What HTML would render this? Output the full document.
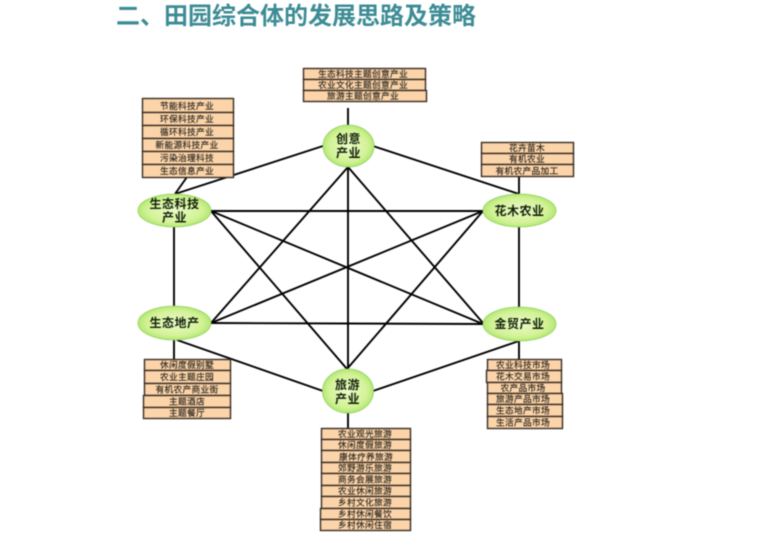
<!DOCTYPE html>
<html><head><meta charset="utf-8"><style>
html,body{margin:0;padding:0;background:#fff;width:760px;height:539px;overflow:hidden}
svg{display:block;filter:blur(.5px)}
.t{font-family:"Liberation Sans","Noto Sans CJK SC",sans-serif;fill:#2e2a22;font-size:8.7px;text-anchor:middle;letter-spacing:.3px;stroke:#2e2a22;stroke-width:.15}
.n{font-family:"Liberation Sans","Noto Sans CJK SC",sans-serif;fill:#14200c;font-size:12px;font-weight:bold;text-anchor:middle;letter-spacing:.5px}
rect{fill:#fcd4a9;stroke:#3a2e24;stroke-width:1.4}
line{stroke:#000;stroke-width:1.9}
ellipse{fill:url(#g);stroke:#8fd15a;stroke-width:.8}
</style></head><body>
<svg width="760" height="539" viewBox="0 0 760 539" xmlns="http://www.w3.org/2000/svg">
<defs><radialGradient id="g" cx="50%" cy="50%" r="58%"><stop offset="0" stop-color="#eafbc8"/><stop offset=".65" stop-color="#d2f296"/><stop offset="1" stop-color="#a0e25e"/></radialGradient></defs>
<text x="116" y="24" font-family="'Liberation Sans','Noto Sans CJK SC',sans-serif" font-weight="bold" font-size="24" fill="#3d8c95">二、田园综合体的发展思路及策略</text>

<line x1="348" y1="108" x2="348" y2="125"/>
<line x1="187" y1="177" x2="175" y2="194"/>
<line x1="519" y1="176" x2="519" y2="194"/>
<line x1="174" y1="340" x2="174" y2="359"/>
<line x1="519" y1="341" x2="519" y2="359"/>
<line x1="348" y1="413" x2="348" y2="428"/>
<line x1="175" y1="194" x2="323" y2="146"/>
<line x1="373" y1="146" x2="519" y2="194"/>
<line x1="174" y1="227" x2="174" y2="306"/>
<line x1="519" y1="227" x2="519" y2="307"/>
<line x1="177" y1="340" x2="323" y2="391"/>
<line x1="519" y1="341" x2="373" y2="391"/>
<line x1="348" y1="167" x2="348" y2="369"/>
<line x1="348" y1="167" x2="211" y2="323"/>
<line x1="348" y1="167" x2="483" y2="323"/>
<line x1="211" y1="211" x2="483" y2="211"/>
<line x1="211" y1="211" x2="483" y2="324"/>
<line x1="211" y1="211" x2="347" y2="369"/>
<line x1="483" y1="211" x2="211" y2="323"/>
<line x1="483" y1="211" x2="347" y2="369"/>
<line x1="211" y1="323" x2="483" y2="324"/>

<g>
<rect x="303.5" y="68.5" width="122" height="11"/><text class="t" x="363" y="76.8">生态科技主题创意产业</text>
<rect x="303.5" y="79.5" width="122" height="11"/><text class="t" x="363" y="87.8">农业文化主题创意产业</text>
<rect x="303.5" y="90.5" width="123" height="11"/><text class="t" x="363" y="98.8">旅游主题创意产业</text>
</g>
<g>
<rect x="142.5" y="98.5" width="91" height="14"/><text class="t" x="187" y="108.8">节能科技产业</text>
<rect x="142.5" y="112.5" width="91" height="13"/><text class="t" x="187" y="122">环保科技产业</text>
<rect x="142.5" y="125.5" width="91" height="13"/><text class="t" x="187" y="135">循环科技产业</text>
<rect x="142.5" y="138.5" width="91" height="13"/><text class="t" x="187" y="148">新能源科技产业</text>
<rect x="142.5" y="151.5" width="91" height="13"/><text class="t" x="187" y="161">污染治理科技</text>
<rect x="142.5" y="164.5" width="91" height="13"/><text class="t" x="187" y="173.8">生态信息产业</text>
</g>
<g>
<rect x="481.5" y="142.5" width="92" height="11"/><text class="t" x="527" y="151">花卉苗木</text>
<rect x="481.5" y="153.5" width="92" height="11"/><text class="t" x="527" y="162">有机农业</text>
<rect x="481.5" y="164.5" width="92" height="12"/><text class="t" x="527" y="173.8">有机农产品加工</text>
</g>
<g>
<rect x="144.5" y="359.5" width="86" height="11"/><text class="t" x="187" y="368">休闲度假别墅</text>
<rect x="144.5" y="370.5" width="86" height="13"/><text class="t" x="187" y="380">农业主题庄园</text>
<rect x="144.5" y="383.5" width="86" height="12"/><text class="t" x="187" y="392.5">有机农产商业街</text>
<rect x="143.5" y="395.5" width="87" height="12"/><text class="t" x="187" y="404.5">主题酒店</text>
<rect x="143.5" y="407.5" width="87" height="11"/><text class="t" x="187" y="415.8">主题餐厅</text>
</g>
<g>
<rect x="487.5" y="359.5" width="74" height="11"/><text class="t" x="523" y="367.8">农业科技市场</text>
<rect x="486.5" y="370.5" width="75" height="12"/><text class="t" x="523" y="379.5">花木交易市场</text>
<rect x="487.5" y="382.5" width="74" height="11"/><text class="t" x="523" y="390.8">农产品市场</text>
<rect x="487.5" y="393.5" width="75" height="11"/><text class="t" x="523" y="401.8">旅游产品市场</text>
<rect x="487.5" y="404.5" width="75" height="12"/><text class="t" x="523" y="413.5">生态地产市场</text>
<rect x="487.5" y="416.5" width="75" height="12"/><text class="t" x="523" y="425.5">生活产品市场</text>
</g>
<g>
<rect x="321.5" y="428.5" width="89" height="11"/><text class="t" x="365" y="437">农业观光旅游</text>
<rect x="321.5" y="439.5" width="89" height="11"/><text class="t" x="365" y="448">休闲度假旅游</text>
<rect x="321.5" y="450.5" width="89" height="12"/><text class="t" x="366" y="459.8">康体疗养旅游</text>
<rect x="321.5" y="462.5" width="89" height="11"/><text class="t" x="365" y="471">郊野游乐旅游</text>
<rect x="321.5" y="473.5" width="89" height="12"/><text class="t" x="365" y="482.5">商务会展旅游</text>
<rect x="321.5" y="485.5" width="89" height="11"/><text class="t" x="365" y="494">农业休闲旅游</text>
<rect x="321.5" y="496.5" width="89" height="12"/><text class="t" x="365" y="505.5">乡村文化旅游</text>
<rect x="320.5" y="508.5" width="90" height="11"/><text class="t" x="365" y="517">乡村休闲餐饮</text>
<rect x="320.5" y="519.5" width="90" height="11"/><text class="t" x="365" y="528">乡村休闲住宿</text>
</g>

<ellipse cx="348.5" cy="146" rx="25.5" ry="21"/>
<text class="n" x="348.5" y="143">创意</text><text class="n" x="348.5" y="157">产业</text>
<ellipse cx="174.5" cy="210.5" rx="36.5" ry="16.5"/>
<text class="n" x="174.5" y="208">生态科技</text><text class="n" x="174.5" y="221.5">产业</text>
<ellipse cx="519.5" cy="210.5" rx="36.5" ry="16.5"/>
<text class="n" x="519.5" y="215">花木农业</text>
<ellipse cx="174.5" cy="323" rx="36.5" ry="17"/>
<text class="n" x="174.5" y="327">生态地产</text>
<ellipse cx="519.5" cy="324" rx="36.5" ry="17"/>
<text class="n" x="519.5" y="328">金贸产业</text>
<ellipse cx="348" cy="391" rx="25.5" ry="22"/>
<text class="n" x="347.5" y="389">旅游</text><text class="n" x="347.5" y="403">产业</text>
</svg>
</body></html>
